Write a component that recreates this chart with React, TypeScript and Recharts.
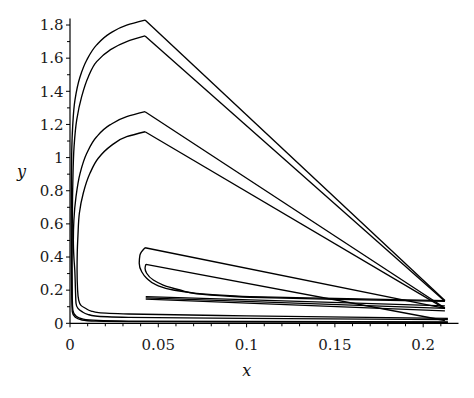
import React from 'react';
import { LineChart, Line, XAxis, YAxis, Label } from 'recharts';

type P = [number, number];

// Axis ticks
const xTicks = [0, 0.01, 0.02, 0.03, 0.04, 0.05, 0.06, 0.07, 0.08, 0.09, 0.1, 0.11, 0.12, 0.13, 0.14, 0.15, 0.16, 0.17, 0.18, 0.19, 0.2, 0.21];
const xMajor = [0, 0.05, 0.1, 0.15, 0.2];
const xLabels = ['0', '0.05', '0.1', '0.15', '0.2'];
const yTicks = [0, 0.1, 0.2, 0.3, 0.4, 0.5, 0.6, 0.7, 0.8, 0.9, 1, 1.1, 1.2, 1.3, 1.4, 1.5, 1.6, 1.7, 1.8];
const yMajor = [0, 0.2, 0.4, 0.6, 0.8, 1, 1.2, 1.4, 1.6, 1.8];
const yLabels = ['0', '0.2', '0.4', '0.6', '0.8', '1', '1.2', '1.4', '1.6', '1.8'];

// Smooth trajectories (from landing point, along the flow)
const arcA: P[] = [[0.0425, 1.83], [0.0321, 1.8], [0.0226, 1.75], [0.0151, 1.68], [0.0095, 1.589], [0.0057, 1.488], [0.0028, 1.347], [0.0015, 1.186], [0.001, 1.046], [0.0008, 0.85], [0.0007, 0.6], [0.0008, 0.35], [0.001, 0.15], [0.0013, 0.07], [0.003, 0.036], [0.0068, 0.02], [0.015, 0.013], [0.0332, 0.0105], [0.1, 0.0085], [0.214, 0.006]];
const arcB: P[] = [[0.0425, 1.734], [0.0321, 1.7], [0.0226, 1.649], [0.0151, 1.579], [0.0104, 1.488], [0.0066, 1.368], [0.0038, 1.227], [0.0023, 1.066], [0.0016, 0.85], [0.0013, 0.6], [0.0012, 0.35], [0.0013, 0.15], [0.0016, 0.08], [0.0035, 0.042], [0.0075, 0.025], [0.016, 0.017], [0.0332, 0.0135], [0.1, 0.011], [0.214, 0.009]];
const arcC: P[] = [[0.0425, 1.277], [0.0321, 1.247], [0.0226, 1.197], [0.0151, 1.126], [0.0095, 1.026], [0.0057, 0.905], [0.0034, 0.764], [0.0022, 0.623], [0.0019, 0.5], [0.0022, 0.4], [0.0027, 0.322], [0.0031, 0.2], [0.0034, 0.121], [0.0045, 0.09], [0.0068, 0.07], [0.01, 0.054], [0.0143, 0.044], [0.0332, 0.036], [0.1, 0.03], [0.214, 0.022]];
const arcD: P[] = [[0.0425, 1.156], [0.0321, 1.126], [0.0226, 1.066], [0.016, 0.996], [0.0113, 0.905], [0.0075, 0.785], [0.0053, 0.664], [0.0045, 0.53], [0.0041, 0.42], [0.004, 0.322], [0.0043, 0.2], [0.0049, 0.141], [0.0062, 0.108], [0.0087, 0.091], [0.012, 0.074], [0.0162, 0.064], [0.0332, 0.056], [0.1, 0.045], [0.214, 0.03]];
const loopE: P[] = [[0.0425, 0.456], [0.0396, 0.412], [0.0392, 0.362], [0.0406, 0.311], [0.0434, 0.272], [0.0491, 0.23], [0.0585, 0.201], [0.0717, 0.181], [0.0906, 0.167], [0.1019, 0.161], [0.15, 0.15], [0.2123, 0.137]];
const loopF: P[] = [[0.043, 0.356], [0.0425, 0.332], [0.0434, 0.302], [0.0472, 0.261], [0.0528, 0.231], [0.0623, 0.201], [0.0717, 0.178], [0.0906, 0.163], [0.1019, 0.157], [0.15, 0.145], [0.2123, 0.132]];

// Impulsive jumps (straight segments)
const jumpA: P[] = [[0.0425, 1.83], [0.2123, 0.137]];
const jumpB: P[] = [[0.0425, 1.734], [0.2123, 0.133]];
const jumpC: P[] = [[0.0425, 1.277], [0.2123, 0.092]];
const jumpD: P[] = [[0.0425, 1.156], [0.2123, 0.089]];
const jumpE: P[] = [[0.0425, 0.456], [0.2123, 0.09]];
const jumpF: P[] = [[0.043, 0.356], [0.2123, 0.017]];
const flatH1: P[] = [[0.0429, 0.161], [0.2123, 0.105]];
const flatH2: P[] = [[0.0429, 0.153], [0.2123, 0.09]];
const flatH3: P[] = [[0.0429, 0.146], [0.2123, 0.075]];

const smoothCurves = [arcA, arcB, arcC, arcD, loopE, loopF];
const straightCurves = [jumpA, jumpB, jumpC, jumpD, jumpE, jumpF, flatH1, flatH2, flatH3];

const toPts = (arr: P[]) => arr.map(([x, y]) => ({ x, y }));
const majorIndex = (list: number[], v: number) => list.findIndex((m) => Math.abs(m - v) < 1e-9);

const FONT = 'DejaVu Serif';

const XTick = (props: any) => {
  const { x, y, payload } = props;
  const i = majorIndex(xMajor, payload.value);
  return (
    <g>
      <line x1={x} x2={x} y1={y} y2={y + (i >= 0 ? 4 : 3)} stroke="#000" strokeWidth={1} />
      {i >= 0 && (
        <text x={x} y={y + 26.5} textAnchor="middle" fontFamily={FONT} fontSize={15} fill="#1a1a1a">
          {xLabels[i]}
        </text>
      )}
    </g>
  );
};

const YTick = (props: any) => {
  const { x, y, payload } = props;
  const i = majorIndex(yMajor, payload.value);
  return (
    <g>
      <line x1={x - (i >= 0 ? 4 : 3)} x2={x} y1={y} y2={y} stroke="#000" strokeWidth={1} />
      {i >= 0 && (
        <text x={x - 6.5} y={y + 5.3} textAnchor="end" fontFamily={FONT} fontSize={15} fill="#1a1a1a">
          {yLabels[i]}
        </text>
      )}
    </g>
  );
};

export default function App() {
  return (
    <LineChart width={458} height={382} margin={{ top: 10.4, right: 7.5, left: 0, bottom: 0 }}>
      <XAxis
        type="number"
        dataKey="x"
        domain={[0, 0.22]}
        allowDataOverflow
        ticks={xTicks}
        interval={0}
        tickSize={0}
        tickMargin={0}
        tickLine={false}
        axisLine={{ stroke: '#000', strokeWidth: 1.2 }}
        tick={XTick}
        height={66.7}
      >
        <Label
          content={(p: any) => {
            const vb = p.viewBox;
            return (
              <text x={vb.x + vb.width / 2 - 17.5} y={vb.y + vb.height - 14} textAnchor="middle" fontFamily={FONT} fontStyle="italic" fontSize={16} fill="#111">
                x
              </text>
            );
          }}
        />
      </XAxis>
      <YAxis
        type="number"
        dataKey="y"
        domain={[0, 1.84]}
        allowDataOverflow
        ticks={yTicks}
        interval={0}
        tickSize={0}
        tickMargin={0}
        tickLine={false}
        axisLine={{ stroke: '#000', strokeWidth: 1.2 }}
        tick={YTick}
        width={62}
      >
        <Label
          content={(p: any) => {
            const vb = p.viewBox;
            return (
              <text x={vb.x + 9} y={vb.y + vb.height / 2 + 6} textAnchor="start" fontFamily={FONT} fontStyle="italic" fontSize={16} fill="#111">
                y
              </text>
            );
          }}
        />
      </YAxis>
      {smoothCurves.map((c, i) => (
        <Line key={'s' + i} data={toPts(c)} dataKey="y" type="monotoneY" stroke="#000" strokeWidth={1.35} dot={false} activeDot={false} isAnimationActive={false} />
      ))}
      {straightCurves.map((c, i) => (
        <Line key={'l' + i} data={toPts(c)} dataKey="y" type="linear" stroke="#000" strokeWidth={1.35} dot={false} activeDot={false} isAnimationActive={false} />
      ))}
    </LineChart>
  );
}
